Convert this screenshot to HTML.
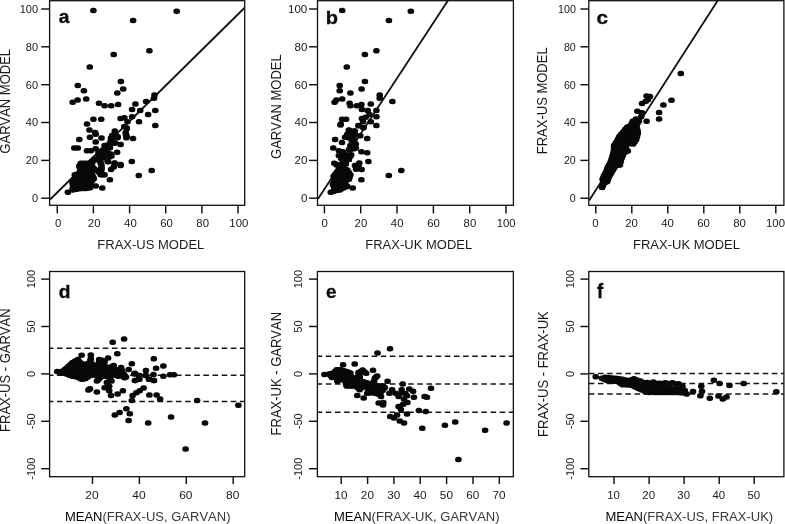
<!DOCTYPE html>
<html lang="en"><head><meta charset="utf-8"><title>Bland-Altman comparison of fracture risk models</title>
<style>html,body{margin:0;padding:0;background:#fff}svg{display:block}text{font-family:"Liberation Sans",Arial,Helvetica,sans-serif;fill:#1a1a1a;font-kerning:none}.tk{font-size:10.75px}.lb{font-size:13px}.pl{font-size:18.5px;font-weight:bold;fill:#0c0c0c;stroke:#0c0c0c;stroke-width:0.35px}.ax{stroke:#111;stroke-width:1.45;fill:none}.bx{stroke:#111;stroke-width:1.3;fill:none}.ds{stroke:#161616;stroke-width:1.5;stroke-dasharray:5.6 3.55;fill:none}.ln{stroke:#111;stroke-width:1.8;fill:none}.p rect{fill:#080808;width:6.6px;height:5.5px;rx:2.9px;ry:2.5px}</style></head><body>
<svg width="785" height="524" viewBox="0 0 785 524">
<rect width="785" height="524" fill="#fff"/>
<g id="panel-a">
<clipPath id="clipa"><rect x="49.6" y="0.7" width="195.1" height="204.60000000000002"/></clipPath>
<line class="ln" x1="50.1" y1="199.5" x2="244.9" y2="7.5" clip-path="url(#clipa)"/>
<g class="p" clip-path="url(#clipa)">
<rect x="90.1" y="7.65"/>
<rect x="173.4" y="8.45"/>
<rect x="129.8" y="17.65"/>
<rect x="146.1" y="47.95"/>
<rect x="110.4" y="51.75"/>
<rect x="86.5" y="64.25"/>
<rect x="117.6" y="78.75"/>
<rect x="74.5" y="82.65"/>
<rect x="119.9" y="86.15"/>
<rect x="80.6" y="87.95"/>
<rect x="114.0" y="90.25"/>
<rect x="151.2" y="92.25"/>
<rect x="150.7" y="95.55"/>
<rect x="82.9" y="96.35"/>
<rect x="74.3" y="97.35"/>
<rect x="69.4" y="99.45"/>
<rect x="142.8" y="98.65"/>
<rect x="95.7" y="100.45"/>
<rect x="132.1" y="101.15"/>
<rect x="101.3" y="102.95"/>
<rect x="107.9" y="102.95"/>
<rect x="114.8" y="101.75"/>
<rect x="128.8" y="106.85"/>
<rect x="136.9" y="107.85"/>
<rect x="152.0" y="107.85"/>
<rect x="144.8" y="111.85"/>
<rect x="128.8" y="113.95"/>
<rect x="117.3" y="115.75"/>
<rect x="121.1" y="114.95"/>
<rect x="90.1" y="116.45"/>
<rect x="97.9" y="116.45"/>
<rect x="124.2" y="119.05"/>
<rect x="135.7" y="119.05"/>
<rect x="83.7" y="121.35"/>
<rect x="152.0" y="122.85"/>
<rect x="121.1" y="123.85"/>
<rect x="86.2" y="127.15"/>
<rect x="111.5" y="128.25"/>
<rect x="91.8" y="129.75"/>
<rect x="122.4" y="129.75"/>
<rect x="92.4" y="131.45"/>
<rect x="86.7" y="134.45"/>
<rect x="76.0" y="136.75"/>
<rect x="98.2" y="135.25"/>
<rect x="92.4" y="139.35"/>
<rect x="123.4" y="125.35"/>
<rect x="123.4" y="133.75"/>
<rect x="129.7" y="135.75"/>
<rect x="112.7" y="134.45"/>
<rect x="107.7" y="135.25"/>
<rect x="117.3" y="141.85"/>
<rect x="110.4" y="140.55"/>
<rect x="105.9" y="142.15"/>
<rect x="101.3" y="142.85"/>
<rect x="71.0" y="145.15"/>
<rect x="74.5" y="145.15"/>
<rect x="83.7" y="147.95"/>
<rect x="87.5" y="147.95"/>
<rect x="92.4" y="145.95"/>
<rect x="113.8" y="149.45"/>
<rect x="98.2" y="148.25"/>
<rect x="102.8" y="149.75"/>
<rect x="107.4" y="151.35"/>
<rect x="95.2" y="152.85"/>
<rect x="105.9" y="154.35"/>
<rect x="99.7" y="155.15"/>
<rect x="92.9" y="156.65"/>
<rect x="128.5" y="158.65"/>
<rect x="104.8" y="158.95"/>
<rect x="111.5" y="160.45"/>
<rect x="117.3" y="162.75"/>
<rect x="98.2" y="162.75"/>
<rect x="110.4" y="164.25"/>
<rect x="107.7" y="166.85"/>
<rect x="148.4" y="167.65"/>
<rect x="135.5" y="172.75"/>
<rect x="106.6" y="176.95"/>
<rect x="99.0" y="185.25"/>
<rect x="92.4" y="183.15"/>
<rect x="64.6" y="189.55"/>
<rect x="77.6" y="160.45"/>
<rect x="82.9" y="160.45"/>
<rect x="87.5" y="161.25"/>
<rect x="76.0" y="163.55"/>
<rect x="80.6" y="164.25"/>
<rect x="86.0" y="165.05"/>
<rect x="90.6" y="165.85"/>
<rect x="77.6" y="167.35"/>
<rect x="82.9" y="168.15"/>
<rect x="88.3" y="168.85"/>
<rect x="98.2" y="166.55"/>
<rect x="95.2" y="168.85"/>
<rect x="71.5" y="171.95"/>
<rect x="75.3" y="171.15"/>
<rect x="79.9" y="171.95"/>
<rect x="84.5" y="171.95"/>
<rect x="89.0" y="172.75"/>
<rect x="97.5" y="171.95"/>
<rect x="101.3" y="171.95"/>
<rect x="72.2" y="175.05"/>
<rect x="76.8" y="175.05"/>
<rect x="81.4" y="175.75"/>
<rect x="86.0" y="175.75"/>
<rect x="90.6" y="175.75"/>
<rect x="69.2" y="179.55"/>
<rect x="73.8" y="178.85"/>
<rect x="78.3" y="178.85"/>
<rect x="82.9" y="179.55"/>
<rect x="87.5" y="179.55"/>
<rect x="69.9" y="183.45"/>
<rect x="74.5" y="182.65"/>
<rect x="79.1" y="183.45"/>
<rect x="83.7" y="183.45"/>
<rect x="69.2" y="187.25"/>
<rect x="73.0" y="186.45"/>
<rect x="77.6" y="185.75"/>
<rect x="82.2" y="185.75"/>
<rect x="86.7" y="184.95"/>
<rect x="95.2" y="149.75"/>
<rect x="97.5" y="152.05"/>
<rect x="102.0" y="146.75"/>
<rect x="105.1" y="145.15"/>
<rect x="108.9" y="138.35"/>
<rect x="111.2" y="131.45"/>
<rect x="114.3" y="133.75"/>
<rect x="108.9" y="132.95"/>
<rect x="90.6" y="157.45"/>
<rect x="88.3" y="158.95"/>
<rect x="96.7" y="158.15"/>
<rect x="123.5" y="125.85"/>
<rect x="122.7" y="131.95"/>
<rect x="123.0" y="135.05"/>
<rect x="108.9" y="132.75"/>
<rect x="114.3" y="135.05"/>
<rect x="107.4" y="138.05"/>
<rect x="112.0" y="140.35"/>
<rect x="102.8" y="142.65"/>
<rect x="106.6" y="144.95"/>
<rect x="99.8" y="147.25"/>
<rect x="104.3" y="150.25"/>
<rect x="108.2" y="153.35"/>
<rect x="99.8" y="154.15"/>
<rect x="111.2" y="160.25"/>
<rect x="117.3" y="161.75"/>
<rect x="104.3" y="158.75"/>
<rect x="69.5" y="181.45"/>
<rect x="69.5" y="185.35"/>
<rect x="70.7" y="177.35"/>
<rect x="71.1" y="186.85"/>
<rect x="71.5" y="179.15"/>
<rect x="71.5" y="184.95"/>
<rect x="71.9" y="173.45"/>
<rect x="72.2" y="183.05"/>
<rect x="73.0" y="176.95"/>
<rect x="73.4" y="171.55"/>
<rect x="73.7" y="173.15"/>
<rect x="73.7" y="184.55"/>
<rect x="74.1" y="180.75"/>
<rect x="74.5" y="175.05"/>
<rect x="75.3" y="176.95"/>
<rect x="75.3" y="186.05"/>
<rect x="76.0" y="173.15"/>
<rect x="76.0" y="178.85"/>
<rect x="76.0" y="184.15"/>
<rect x="76.4" y="180.75"/>
<rect x="76.5" y="169.25"/>
<rect x="76.8" y="162.05"/>
<rect x="76.8" y="165.45"/>
<rect x="76.8" y="183.05"/>
<rect x="77.5" y="176.95"/>
<rect x="77.6" y="171.55"/>
<rect x="78.3" y="163.95"/>
<rect x="78.4" y="173.45"/>
<rect x="78.4" y="184.55"/>
<rect x="78.7" y="181.15"/>
<rect x="78.8" y="169.65"/>
<rect x="79.1" y="162.35"/>
<rect x="79.1" y="165.85"/>
<rect x="79.1" y="175.45"/>
<rect x="79.9" y="177.35"/>
<rect x="79.9" y="185.75"/>
<rect x="80.3" y="160.45"/>
<rect x="80.3" y="167.75"/>
<rect x="80.6" y="179.15"/>
<rect x="80.7" y="173.85"/>
<rect x="80.7" y="184.55"/>
<rect x="81.0" y="181.45"/>
<rect x="81.4" y="170.05"/>
<rect x="81.4" y="183.45"/>
<rect x="81.8" y="162.35"/>
<rect x="81.8" y="166.15"/>
<rect x="82.2" y="171.95"/>
<rect x="82.2" y="177.65"/>
<rect x="82.9" y="173.85"/>
<rect x="82.9" y="184.55"/>
<rect x="83.3" y="164.65"/>
<rect x="83.3" y="181.45"/>
<rect x="83.7" y="170.05"/>
<rect x="83.7" y="175.75"/>
<rect x="84.5" y="162.75"/>
<rect x="84.5" y="166.65"/>
<rect x="84.5" y="177.65"/>
<rect x="84.5" y="185.35"/>
<rect x="85.2" y="160.85"/>
<rect x="85.2" y="173.85"/>
<rect x="85.2" y="179.55"/>
<rect x="85.2" y="184.15"/>
<rect x="85.6" y="168.45"/>
<rect x="85.6" y="181.45"/>
<rect x="86.4" y="170.35"/>
<rect x="86.7" y="163.15"/>
<rect x="86.7" y="172.35"/>
<rect x="86.7" y="177.65"/>
<rect x="87.1" y="166.95"/>
<rect x="87.1" y="182.25"/>
<rect x="87.5" y="174.25"/>
<rect x="87.9" y="160.05"/>
<rect x="88.3" y="165.45"/>
<rect x="88.3" y="175.75"/>
<rect x="88.6" y="170.85"/>
<rect x="89.0" y="159.35"/>
<rect x="89.0" y="163.55"/>
<rect x="89.0" y="177.65"/>
<rect x="89.5" y="158.15"/>
<rect x="89.5" y="167.35"/>
<rect x="89.8" y="174.25"/>
<rect x="92.9" y="167.35"/>
<rect x="96.4" y="170.35"/>
<rect x="96.7" y="167.65"/>
<rect x="97.5" y="160.45"/>
<rect x="97.9" y="169.25"/>
<rect x="98.2" y="164.65"/>
<rect x="99.4" y="171.95"/>
</g>
<rect class="bx" x="49.6" y="0.7" width="195.1" height="204.60000000000002"/>
<line class="ax" x1="57.3" y1="205.3" x2="57.3" y2="213.4"/>
<text class="tk" transform="translate(58.1,226.6) scale(1.06,1)" text-anchor="middle">0</text>
<line class="ax" x1="93.4" y1="205.3" x2="93.4" y2="213.4"/>
<text class="tk" transform="translate(94.2,226.6) scale(1.06,1)" text-anchor="middle">20</text>
<line class="ax" x1="129.6" y1="205.3" x2="129.6" y2="213.4"/>
<text class="tk" transform="translate(130.4,226.6) scale(1.06,1)" text-anchor="middle">40</text>
<line class="ax" x1="165.7" y1="205.3" x2="165.7" y2="213.4"/>
<text class="tk" transform="translate(166.5,226.6) scale(1.06,1)" text-anchor="middle">60</text>
<line class="ax" x1="201.9" y1="205.3" x2="201.9" y2="213.4"/>
<text class="tk" transform="translate(202.7,226.6) scale(1.06,1)" text-anchor="middle">80</text>
<line class="ax" x1="238.0" y1="205.3" x2="238.0" y2="213.4"/>
<text class="tk" transform="translate(238.8,226.6) scale(1.06,1)" text-anchor="middle">100</text>
<line class="ax" x1="41.2" y1="198.2" x2="49.6" y2="198.2"/>
<text class="tk" style="font-size:10.1px" transform="translate(38.1,202.1) scale(1.09,1)" text-anchor="end">0</text>
<line class="ax" x1="41.2" y1="160.4" x2="49.6" y2="160.4"/>
<text class="tk" style="font-size:10.1px" transform="translate(38.1,164.3) scale(1.09,1)" text-anchor="end">20</text>
<line class="ax" x1="41.2" y1="122.5" x2="49.6" y2="122.5"/>
<text class="tk" style="font-size:10.1px" transform="translate(38.1,126.4) scale(1.09,1)" text-anchor="end">40</text>
<line class="ax" x1="41.2" y1="84.7" x2="49.6" y2="84.7"/>
<text class="tk" style="font-size:10.1px" transform="translate(38.1,88.6) scale(1.09,1)" text-anchor="end">60</text>
<line class="ax" x1="41.2" y1="46.8" x2="49.6" y2="46.8"/>
<text class="tk" style="font-size:10.1px" transform="translate(38.1,50.7) scale(1.09,1)" text-anchor="end">80</text>
<line class="ax" x1="41.2" y1="9.0" x2="49.6" y2="9.0"/>
<text class="tk" style="font-size:10.1px" transform="translate(38.1,12.9) scale(1.09,1)" text-anchor="end">100</text>
<text class="lb" style="font-size:13.7px" transform="translate(150.8,248.6) scale(0.95,1)" text-anchor="middle">FRAX-US MODEL</text>
<text class="lb" transform="translate(10.0,101.3) scale(1.12,1) rotate(-90)" text-anchor="middle">GARVAN MODEL</text>
<text class="pl" style="font-size:19.2px" transform="translate(58.7,23.2) scale(1.0,1)">a</text>
</g>
<g id="panel-b">
<clipPath id="clipb"><rect x="317.5" y="0.7" width="195.89999999999998" height="204.60000000000002"/></clipPath>
<line class="ln" x1="318.1" y1="198.7" x2="448.3" y2="0" clip-path="url(#clipb)"/>
<g class="p" clip-path="url(#clipb)">
<rect x="338.9" y="7.65"/>
<rect x="407.5" y="8.45"/>
<rect x="385.6" y="17.65"/>
<rect x="373.1" y="47.95"/>
<rect x="361.6" y="51.75"/>
<rect x="343.5" y="64.25"/>
<rect x="361.6" y="78.75"/>
<rect x="336.4" y="82.65"/>
<rect x="358.3" y="86.15"/>
<rect x="336.4" y="87.95"/>
<rect x="347.1" y="90.25"/>
<rect x="376.4" y="92.25"/>
<rect x="376.4" y="95.55"/>
<rect x="338.9" y="96.35"/>
<rect x="333.1" y="97.35"/>
<rect x="331.3" y="99.45"/>
<rect x="389.1" y="98.65"/>
<rect x="346.3" y="100.45"/>
<rect x="367.5" y="101.15"/>
<rect x="347.1" y="102.95"/>
<rect x="353.5" y="102.95"/>
<rect x="358.1" y="101.75"/>
<rect x="358.6" y="106.85"/>
<rect x="364.4" y="107.85"/>
<rect x="373.1" y="107.85"/>
<rect x="366.2" y="111.85"/>
<rect x="373.1" y="113.95"/>
<rect x="358.6" y="115.75"/>
<rect x="362.4" y="114.45"/>
<rect x="338.9" y="116.45"/>
<rect x="342.8" y="116.45"/>
<rect x="359.8" y="119.05"/>
<rect x="367.5" y="119.05"/>
<rect x="337.4" y="121.35"/>
<rect x="373.1" y="122.85"/>
<rect x="355.2" y="122.85"/>
<rect x="360.3" y="124.65"/>
<rect x="345.8" y="127.15"/>
<rect x="351.4" y="128.25"/>
<rect x="337.2" y="122.25"/>
<rect x="355.2" y="123.05"/>
<rect x="360.1" y="125.05"/>
<rect x="345.6" y="127.65"/>
<rect x="350.9" y="128.35"/>
<rect x="347.9" y="131.45"/>
<rect x="357.0" y="132.95"/>
<rect x="341.8" y="134.45"/>
<rect x="345.6" y="135.25"/>
<rect x="363.9" y="135.75"/>
<rect x="331.8" y="136.75"/>
<rect x="350.9" y="137.55"/>
<rect x="338.7" y="139.85"/>
<rect x="352.5" y="141.35"/>
<rect x="347.1" y="142.85"/>
<rect x="330.0" y="145.15"/>
<rect x="350.9" y="145.95"/>
<rect x="345.6" y="146.75"/>
<rect x="335.6" y="147.95"/>
<rect x="339.5" y="149.05"/>
<rect x="358.1" y="149.05"/>
<rect x="363.9" y="150.05"/>
<rect x="347.9" y="152.05"/>
<rect x="343.3" y="153.55"/>
<rect x="337.9" y="155.85"/>
<rect x="345.6" y="156.65"/>
<rect x="341.8" y="158.95"/>
<rect x="365.1" y="158.65"/>
<rect x="356.0" y="160.15"/>
<rect x="331.0" y="160.45"/>
<rect x="333.3" y="162.35"/>
<rect x="351.7" y="162.75"/>
<rect x="337.9" y="162.35"/>
<rect x="352.8" y="166.55"/>
<rect x="358.3" y="166.85"/>
<rect x="398.0" y="167.65"/>
<rect x="385.5" y="172.75"/>
<rect x="358.1" y="176.95"/>
<rect x="349.4" y="185.25"/>
<rect x="327.5" y="189.55"/>
<rect x="335.6" y="166.55"/>
<rect x="340.2" y="165.85"/>
<rect x="344.0" y="167.35"/>
<rect x="333.3" y="169.65"/>
<rect x="337.9" y="169.65"/>
<rect x="342.5" y="170.45"/>
<rect x="347.1" y="171.95"/>
<rect x="330.3" y="173.45"/>
<rect x="334.9" y="173.45"/>
<rect x="339.5" y="174.25"/>
<rect x="344.0" y="174.25"/>
<rect x="345.6" y="176.55"/>
<rect x="331.8" y="177.25"/>
<rect x="336.4" y="177.25"/>
<rect x="341.0" y="178.05"/>
<rect x="329.5" y="181.15"/>
<rect x="334.1" y="181.15"/>
<rect x="338.7" y="181.15"/>
<rect x="342.5" y="182.65"/>
<rect x="344.0" y="183.45"/>
<rect x="331.0" y="184.95"/>
<rect x="335.6" y="184.95"/>
<rect x="340.2" y="184.95"/>
<rect x="331.8" y="187.95"/>
<rect x="336.4" y="187.25"/>
<rect x="355.3" y="163.25"/>
<rect x="333.8" y="161.85"/>
<rect x="352.5" y="132.15"/>
<rect x="344.0" y="131.45"/>
<rect x="348.6" y="135.25"/>
<rect x="348.6" y="139.85"/>
<rect x="350.2" y="143.65"/>
<rect x="347.1" y="146.75"/>
<rect x="352.5" y="145.15"/>
<rect x="341.0" y="151.35"/>
<rect x="344.0" y="156.65"/>
<rect x="339.5" y="158.95"/>
<rect x="335.6" y="152.85"/>
<rect x="347.1" y="153.55"/>
<rect x="340.2" y="155.15"/>
<rect x="342.5" y="161.25"/>
<rect x="329.7" y="188.75"/>
<rect x="330.3" y="183.05"/>
<rect x="330.7" y="179.15"/>
<rect x="331.1" y="175.35"/>
<rect x="331.4" y="186.45"/>
<rect x="331.8" y="171.55"/>
<rect x="331.8" y="181.15"/>
<rect x="332.6" y="173.45"/>
<rect x="332.6" y="183.05"/>
<rect x="332.9" y="179.15"/>
<rect x="333.3" y="175.35"/>
<rect x="333.3" y="184.95"/>
<rect x="333.7" y="186.45"/>
<rect x="334.1" y="171.55"/>
<rect x="334.1" y="177.25"/>
<rect x="334.1" y="187.55"/>
<rect x="334.5" y="168.15"/>
<rect x="334.8" y="183.05"/>
<rect x="335.2" y="179.15"/>
<rect x="335.6" y="169.65"/>
<rect x="335.6" y="175.35"/>
<rect x="336.0" y="186.05"/>
<rect x="336.4" y="171.55"/>
<rect x="336.4" y="181.15"/>
<rect x="336.7" y="168.15"/>
<rect x="337.1" y="183.05"/>
<rect x="337.2" y="173.85"/>
<rect x="337.6" y="179.15"/>
<rect x="337.9" y="166.15"/>
<rect x="337.9" y="175.75"/>
<rect x="337.9" y="184.95"/>
<rect x="338.3" y="186.05"/>
<rect x="338.7" y="171.95"/>
<rect x="338.7" y="177.65"/>
<rect x="339.1" y="167.75"/>
<rect x="339.5" y="183.05"/>
<rect x="339.8" y="179.65"/>
<rect x="340.2" y="170.05"/>
<rect x="340.3" y="176.15"/>
<rect x="340.6" y="181.95"/>
<rect x="341.0" y="172.35"/>
<rect x="341.3" y="168.15"/>
<rect x="341.3" y="183.85"/>
<rect x="341.8" y="174.25"/>
<rect x="341.8" y="180.35"/>
<rect x="342.1" y="166.55"/>
<rect x="342.1" y="184.15"/>
<rect x="342.5" y="176.15"/>
<rect x="343.3" y="168.85"/>
<rect x="343.3" y="172.35"/>
<rect x="343.3" y="177.35"/>
<rect x="344.8" y="171.15"/>
<rect x="344.8" y="175.45"/>
<rect x="345.6" y="169.65"/>
<rect x="345.6" y="173.05"/>
<rect x="346.3" y="174.25"/>
</g>
<rect class="bx" x="317.5" y="0.7" width="195.89999999999998" height="204.60000000000002"/>
<line class="ax" x1="324.4" y1="205.3" x2="324.4" y2="213.4"/>
<text class="tk" transform="translate(324.6,226.6) scale(1.06,1)" text-anchor="middle">0</text>
<line class="ax" x1="360.7" y1="205.3" x2="360.7" y2="213.4"/>
<text class="tk" transform="translate(360.9,226.6) scale(1.06,1)" text-anchor="middle">20</text>
<line class="ax" x1="397.0" y1="205.3" x2="397.0" y2="213.4"/>
<text class="tk" transform="translate(397.2,226.6) scale(1.06,1)" text-anchor="middle">40</text>
<line class="ax" x1="433.4" y1="205.3" x2="433.4" y2="213.4"/>
<text class="tk" transform="translate(433.6,226.6) scale(1.06,1)" text-anchor="middle">60</text>
<line class="ax" x1="469.7" y1="205.3" x2="469.7" y2="213.4"/>
<text class="tk" transform="translate(469.9,226.6) scale(1.06,1)" text-anchor="middle">80</text>
<line class="ax" x1="506.0" y1="205.3" x2="506.0" y2="213.4"/>
<text class="tk" transform="translate(506.2,226.6) scale(1.06,1)" text-anchor="middle">100</text>
<line class="ax" x1="309.1" y1="198.2" x2="317.5" y2="198.2"/>
<text class="tk" style="font-size:10.1px" transform="translate(307.3,202.1) scale(1.145,1)" text-anchor="end">0</text>
<line class="ax" x1="309.1" y1="160.4" x2="317.5" y2="160.4"/>
<text class="tk" style="font-size:10.1px" transform="translate(307.3,164.3) scale(1.145,1)" text-anchor="end">20</text>
<line class="ax" x1="309.1" y1="122.5" x2="317.5" y2="122.5"/>
<text class="tk" style="font-size:10.1px" transform="translate(307.3,126.4) scale(1.145,1)" text-anchor="end">40</text>
<line class="ax" x1="309.1" y1="84.7" x2="317.5" y2="84.7"/>
<text class="tk" style="font-size:10.1px" transform="translate(307.3,88.6) scale(1.145,1)" text-anchor="end">60</text>
<line class="ax" x1="309.1" y1="46.8" x2="317.5" y2="46.8"/>
<text class="tk" style="font-size:10.1px" transform="translate(307.3,50.7) scale(1.145,1)" text-anchor="end">80</text>
<line class="ax" x1="309.1" y1="9.0" x2="317.5" y2="9.0"/>
<text class="tk" style="font-size:10.1px" transform="translate(307.3,12.9) scale(1.145,1)" text-anchor="end">100</text>
<text class="lb" style="font-size:13.7px" transform="translate(418.7,248.6) scale(0.95,1)" text-anchor="middle">FRAX-UK MODEL</text>
<text class="lb" transform="translate(280.6,106.6) scale(1.12,1) rotate(-90)" text-anchor="middle">GARVAN MODEL</text>
<text class="pl" style="font-size:19.2px" transform="translate(325.7,23.7) scale(1.04,1)">b</text>
</g>
<g id="panel-c">
<clipPath id="clipc"><rect x="588.8" y="0.7" width="195.10000000000002" height="204.60000000000002"/></clipPath>
<line class="ln" x1="589.1" y1="200.5" x2="718.1" y2="0" clip-path="url(#clipc)"/>
<g class="p" clip-path="url(#clipc)">
<rect x="677.5" y="70.75"/>
<rect x="668.2" y="97.45"/>
<rect x="660.1" y="102.35"/>
<rect x="655.8" y="109.65"/>
<rect x="655.8" y="116.15"/>
<rect x="643.3" y="118.45"/>
<rect x="643.3" y="93.15"/>
<rect x="646.6" y="93.65"/>
<rect x="644.8" y="96.65"/>
<rect x="638.7" y="100.85"/>
<rect x="642.5" y="98.55"/>
<rect x="634.1" y="108.45"/>
<rect x="638.7" y="110.05"/>
<rect x="637.9" y="113.85"/>
<rect x="632.6" y="116.15"/>
<rect x="629.5" y="118.45"/>
<rect x="635.6" y="118.45"/>
<rect x="628.0" y="122.25"/>
<rect x="632.6" y="122.95"/>
<rect x="624.9" y="125.25"/>
<rect x="630.3" y="126.85"/>
<rect x="634.1" y="129.15"/>
<rect x="621.9" y="129.15"/>
<rect x="627.2" y="130.65"/>
<rect x="632.6" y="132.95"/>
<rect x="618.0" y="132.95"/>
<rect x="623.4" y="133.75"/>
<rect x="628.7" y="135.25"/>
<rect x="598.8" y="184.65"/>
<rect x="600.8" y="180.35"/>
<rect x="599.3" y="176.55"/>
<rect x="603.9" y="178.85"/>
<rect x="600.8" y="172.75"/>
<rect x="605.4" y="174.25"/>
<rect x="603.1" y="168.85"/>
<rect x="607.7" y="170.45"/>
<rect x="604.6" y="164.25"/>
<rect x="610.0" y="166.55"/>
<rect x="606.9" y="160.45"/>
<rect x="612.3" y="162.75"/>
<rect x="616.6" y="162.35"/>
<rect x="608.5" y="155.85"/>
<rect x="613.8" y="158.15"/>
<rect x="618.4" y="155.15"/>
<rect x="610.0" y="151.35"/>
<rect x="615.3" y="152.85"/>
<rect x="610.8" y="146.75"/>
<rect x="616.1" y="148.25"/>
<rect x="620.7" y="149.75"/>
<rect x="624.5" y="148.25"/>
<rect x="610.8" y="142.85"/>
<rect x="616.1" y="143.65"/>
<rect x="621.5" y="144.45"/>
<rect x="613.8" y="138.35"/>
<rect x="619.2" y="139.85"/>
<rect x="623.7" y="140.55"/>
<rect x="629.9" y="141.35"/>
<rect x="616.1" y="133.75"/>
<rect x="621.5" y="135.25"/>
<rect x="626.8" y="136.75"/>
<rect x="632.9" y="136.75"/>
<rect x="619.9" y="129.15"/>
<rect x="625.3" y="130.65"/>
<rect x="630.6" y="132.15"/>
<rect x="634.5" y="130.65"/>
<rect x="623.7" y="124.55"/>
<rect x="629.1" y="126.05"/>
<rect x="633.7" y="126.05"/>
<rect x="599.8" y="182.45"/>
<rect x="600.1" y="174.65"/>
<rect x="600.1" y="178.45"/>
<rect x="601.6" y="177.65"/>
<rect x="601.9" y="170.85"/>
<rect x="602.4" y="175.45"/>
<rect x="602.4" y="175.85"/>
<rect x="602.4" y="179.55"/>
<rect x="603.1" y="173.45"/>
<rect x="603.8" y="166.55"/>
<rect x="604.2" y="171.55"/>
<rect x="604.7" y="176.55"/>
<rect x="605.4" y="169.65"/>
<rect x="605.7" y="162.35"/>
<rect x="606.2" y="167.35"/>
<rect x="606.5" y="167.65"/>
<rect x="606.6" y="172.35"/>
<rect x="607.3" y="165.45"/>
<rect x="607.7" y="158.15"/>
<rect x="608.5" y="163.45"/>
<rect x="608.8" y="168.45"/>
<rect x="609.2" y="153.55"/>
<rect x="609.6" y="161.55"/>
<rect x="610.4" y="149.05"/>
<rect x="610.4" y="159.35"/>
<rect x="610.8" y="144.85"/>
<rect x="611.2" y="157.05"/>
<rect x="611.2" y="164.65"/>
<rect x="611.9" y="154.35"/>
<rect x="612.3" y="140.55"/>
<rect x="612.7" y="152.05"/>
<rect x="613.0" y="149.85"/>
<rect x="613.1" y="160.45"/>
<rect x="613.5" y="143.25"/>
<rect x="613.5" y="145.15"/>
<rect x="613.5" y="147.45"/>
<rect x="614.5" y="162.55"/>
<rect x="614.6" y="155.45"/>
<rect x="614.9" y="136.05"/>
<rect x="614.9" y="141.05"/>
<rect x="615.2" y="160.25"/>
<rect x="615.7" y="150.55"/>
<rect x="615.9" y="135.65"/>
<rect x="616.1" y="145.95"/>
<rect x="616.1" y="156.65"/>
<rect x="616.5" y="139.05"/>
<rect x="616.9" y="154.05"/>
<rect x="617.0" y="133.35"/>
<rect x="617.2" y="151.65"/>
<rect x="617.5" y="158.75"/>
<rect x="617.7" y="136.85"/>
<rect x="617.7" y="141.75"/>
<rect x="618.0" y="131.45"/>
<rect x="618.0" y="151.35"/>
<rect x="618.4" y="149.05"/>
<rect x="618.6" y="136.35"/>
<rect x="618.8" y="134.45"/>
<rect x="618.8" y="144.05"/>
<rect x="618.8" y="146.35"/>
<rect x="618.9" y="131.05"/>
<rect x="619.0" y="131.45"/>
<rect x="619.6" y="152.45"/>
<rect x="619.7" y="133.75"/>
<rect x="619.7" y="134.05"/>
<rect x="619.9" y="131.05"/>
<rect x="620.3" y="137.55"/>
<rect x="620.3" y="142.15"/>
<rect x="620.7" y="132.15"/>
<rect x="620.7" y="133.35"/>
<rect x="621.1" y="147.05"/>
<rect x="621.3" y="136.85"/>
<rect x="621.5" y="140.15"/>
<rect x="621.7" y="131.45"/>
<rect x="621.7" y="132.15"/>
<rect x="621.8" y="126.85"/>
<rect x="622.4" y="127.15"/>
<rect x="622.5" y="134.45"/>
<rect x="622.6" y="129.95"/>
<rect x="622.6" y="137.95"/>
<rect x="622.6" y="142.45"/>
<rect x="622.6" y="149.05"/>
<rect x="622.7" y="131.45"/>
<rect x="622.8" y="126.85"/>
<rect x="623.0" y="146.35"/>
<rect x="623.4" y="127.15"/>
<rect x="623.4" y="132.95"/>
<rect x="623.6" y="129.95"/>
<rect x="623.6" y="137.15"/>
<rect x="624.2" y="136.05"/>
<rect x="624.3" y="132.95"/>
<rect x="624.4" y="132.15"/>
<rect x="624.5" y="127.55"/>
<rect x="624.6" y="129.95"/>
<rect x="625.1" y="127.95"/>
<rect x="625.1" y="135.25"/>
<rect x="625.2" y="138.65"/>
<rect x="625.3" y="132.15"/>
<rect x="625.5" y="127.55"/>
<rect x="625.8" y="123.45"/>
<rect x="626.1" y="127.95"/>
<rect x="626.1" y="133.65"/>
<rect x="626.1" y="134.45"/>
<rect x="626.2" y="137.95"/>
<rect x="626.4" y="125.35"/>
<rect x="626.5" y="123.75"/>
<rect x="626.8" y="140.95"/>
<rect x="627.0" y="125.65"/>
<rect x="627.0" y="132.95"/>
<rect x="627.0" y="133.65"/>
<rect x="627.2" y="128.35"/>
<rect x="627.6" y="126.05"/>
<rect x="627.7" y="136.05"/>
<rect x="627.8" y="128.75"/>
<rect x="627.9" y="131.45"/>
<rect x="627.9" y="132.95"/>
<rect x="628.2" y="128.35"/>
<rect x="628.4" y="139.05"/>
<rect x="628.5" y="124.15"/>
<rect x="628.7" y="120.35"/>
<rect x="628.7" y="128.75"/>
<rect x="628.7" y="134.45"/>
<rect x="628.9" y="131.45"/>
<rect x="629.2" y="124.55"/>
<rect x="629.3" y="138.35"/>
<rect x="629.7" y="133.65"/>
<rect x="629.7" y="134.85"/>
<rect x="629.8" y="129.15"/>
<rect x="629.9" y="131.85"/>
<rect x="629.9" y="136.75"/>
<rect x="630.3" y="122.55"/>
<rect x="630.5" y="129.45"/>
<rect x="630.7" y="129.95"/>
<rect x="630.7" y="134.05"/>
<rect x="630.8" y="124.15"/>
<rect x="630.8" y="124.45"/>
<rect x="630.8" y="130.65"/>
<rect x="630.8" y="136.05"/>
<rect x="631.0" y="120.75"/>
<rect x="631.4" y="126.05"/>
<rect x="631.4" y="139.05"/>
<rect x="631.5" y="124.95"/>
<rect x="631.5" y="129.85"/>
<rect x="631.6" y="127.65"/>
<rect x="631.6" y="132.55"/>
<rect x="631.6" y="132.95"/>
<rect x="631.7" y="134.45"/>
<rect x="631.8" y="128.35"/>
<rect x="632.0" y="126.45"/>
<rect x="632.2" y="128.05"/>
<rect x="632.2" y="129.15"/>
<rect x="632.3" y="130.65"/>
<rect x="632.4" y="128.75"/>
<rect x="632.5" y="118.45"/>
<rect x="632.5" y="131.45"/>
<rect x="632.7" y="134.85"/>
<rect x="633.2" y="124.45"/>
<rect x="633.2" y="129.45"/>
<rect x="633.3" y="126.05"/>
<rect x="633.3" y="131.05"/>
<rect x="633.5" y="131.85"/>
<rect x="633.7" y="133.65"/>
<rect x="633.9" y="127.65"/>
<rect x="634.1" y="120.75"/>
<rect x="634.1" y="128.35"/>
</g>
<rect class="bx" x="588.8" y="0.7" width="195.10000000000002" height="204.60000000000002"/>
<line class="ax" x1="595.8" y1="205.3" x2="595.8" y2="213.4"/>
<text class="tk" transform="translate(595.5,226.6) scale(1.06,1)" text-anchor="middle">0</text>
<line class="ax" x1="631.8" y1="205.3" x2="631.8" y2="213.4"/>
<text class="tk" transform="translate(631.5,226.6) scale(1.06,1)" text-anchor="middle">20</text>
<line class="ax" x1="667.8" y1="205.3" x2="667.8" y2="213.4"/>
<text class="tk" transform="translate(667.5,226.6) scale(1.06,1)" text-anchor="middle">40</text>
<line class="ax" x1="703.8" y1="205.3" x2="703.8" y2="213.4"/>
<text class="tk" transform="translate(703.5,226.6) scale(1.06,1)" text-anchor="middle">60</text>
<line class="ax" x1="739.8" y1="205.3" x2="739.8" y2="213.4"/>
<text class="tk" transform="translate(739.5,226.6) scale(1.06,1)" text-anchor="middle">80</text>
<line class="ax" x1="775.8" y1="205.3" x2="775.8" y2="213.4"/>
<text class="tk" transform="translate(775.5,226.6) scale(1.06,1)" text-anchor="middle">100</text>
<line class="ax" x1="580.4" y1="198.2" x2="588.8" y2="198.2"/>
<text class="tk" style="font-size:10.1px" transform="translate(575.8,202.1) scale(1.055,1)" text-anchor="end">0</text>
<line class="ax" x1="580.4" y1="160.4" x2="588.8" y2="160.4"/>
<text class="tk" style="font-size:10.1px" transform="translate(575.8,164.3) scale(1.055,1)" text-anchor="end">20</text>
<line class="ax" x1="580.4" y1="122.5" x2="588.8" y2="122.5"/>
<text class="tk" style="font-size:10.1px" transform="translate(575.8,126.4) scale(1.055,1)" text-anchor="end">40</text>
<line class="ax" x1="580.4" y1="84.7" x2="588.8" y2="84.7"/>
<text class="tk" style="font-size:10.1px" transform="translate(575.8,88.6) scale(1.055,1)" text-anchor="end">60</text>
<line class="ax" x1="580.4" y1="46.8" x2="588.8" y2="46.8"/>
<text class="tk" style="font-size:10.1px" transform="translate(575.8,50.7) scale(1.055,1)" text-anchor="end">80</text>
<line class="ax" x1="580.4" y1="9.0" x2="588.8" y2="9.0"/>
<text class="tk" style="font-size:10.1px" transform="translate(575.8,12.9) scale(1.055,1)" text-anchor="end">100</text>
<text class="lb" style="font-size:13.7px" transform="translate(686.5,248.6) scale(0.95,1)" text-anchor="middle">FRAX-UK MODEL</text>
<text class="lb" transform="translate(546.9,100.8) scale(1.12,1) rotate(-90)" text-anchor="middle">FRAX-US MODEL</text>
<text class="pl" style="font-size:18.5px" transform="translate(596.4,23.7) scale(1.12,1)">c</text>
</g>
<g id="panel-d">
<clipPath id="clipd"><rect x="49.6" y="271.5" width="195.1" height="205.2"/></clipPath>
<line class="ds" stroke-dasharray="5.6 3.58" stroke-dashoffset="1.78" x1="49.6" y1="348.2" x2="244.7" y2="348.2"/>
<line class="ds" stroke-dasharray="5.6 3.58" stroke-dashoffset="1.78" x1="49.6" y1="375.3" x2="244.7" y2="375.3"/>
<line class="ds" stroke-dasharray="5.6 3.58" stroke-dashoffset="1.78" x1="49.6" y1="401.5" x2="244.7" y2="401.5"/>
<g class="p" clip-path="url(#clipd)">
<rect x="120.8" y="336.35"/>
<rect x="109.4" y="339.45"/>
<rect x="114.0" y="351.05"/>
<rect x="150.5" y="355.95"/>
<rect x="78.3" y="352.45"/>
<rect x="87.5" y="352.15"/>
<rect x="104.8" y="355.15"/>
<rect x="95.9" y="356.75"/>
<rect x="101.3" y="358.25"/>
<rect x="74.5" y="356.75"/>
<rect x="87.5" y="355.95"/>
<rect x="69.2" y="359.75"/>
<rect x="128.5" y="360.95"/>
<rect x="160.1" y="363.25"/>
<rect x="110.4" y="362.85"/>
<rect x="117.8" y="364.85"/>
<rect x="152.8" y="365.55"/>
<rect x="125.4" y="366.65"/>
<rect x="142.6" y="367.75"/>
<rect x="53.9" y="368.65"/>
<rect x="57.7" y="369.75"/>
<rect x="131.6" y="370.45"/>
<rect x="136.4" y="372.75"/>
<rect x="150.2" y="371.65"/>
<rect x="160.1" y="373.55"/>
<rect x="142.6" y="372.75"/>
<rect x="145.6" y="376.55"/>
<rect x="150.5" y="377.65"/>
<rect x="131.9" y="377.65"/>
<rect x="136.1" y="376.55"/>
<rect x="121.2" y="375.05"/>
<rect x="116.6" y="371.25"/>
<rect x="112.0" y="372.05"/>
<rect x="108.2" y="378.15"/>
<rect x="103.6" y="379.65"/>
<rect x="93.6" y="378.15"/>
<rect x="78.3" y="376.55"/>
<rect x="69.2" y="373.55"/>
<rect x="105.9" y="383.45"/>
<rect x="101.3" y="385.05"/>
<rect x="86.0" y="386.55"/>
<rect x="93.6" y="389.25"/>
<rect x="140.3" y="385.35"/>
<rect x="136.4" y="388.05"/>
<rect x="133.1" y="390.05"/>
<rect x="119.6" y="388.05"/>
<rect x="105.9" y="388.05"/>
<rect x="114.3" y="391.15"/>
<rect x="107.7" y="392.65"/>
<rect x="129.3" y="392.65"/>
<rect x="146.1" y="392.35"/>
<rect x="153.3" y="392.35"/>
<rect x="156.8" y="396.15"/>
<rect x="128.5" y="397.65"/>
<rect x="123.1" y="405.95"/>
<rect x="116.3" y="409.75"/>
<rect x="61.5" y="366.65"/>
<rect x="61.5" y="370.45"/>
<rect x="65.3" y="363.55"/>
<rect x="65.3" y="368.15"/>
<rect x="65.3" y="372.05"/>
<rect x="69.2" y="363.55"/>
<rect x="69.2" y="368.15"/>
<rect x="73.0" y="361.35"/>
<rect x="73.0" y="365.85"/>
<rect x="73.0" y="370.45"/>
<rect x="73.8" y="374.25"/>
<rect x="77.6" y="360.55"/>
<rect x="77.6" y="365.15"/>
<rect x="77.6" y="369.75"/>
<rect x="77.6" y="373.55"/>
<rect x="82.2" y="362.05"/>
<rect x="82.2" y="366.65"/>
<rect x="82.2" y="371.25"/>
<rect x="82.2" y="375.85"/>
<rect x="86.7" y="359.75"/>
<rect x="86.7" y="364.35"/>
<rect x="86.7" y="368.95"/>
<rect x="86.7" y="372.75"/>
<rect x="91.3" y="362.85"/>
<rect x="91.3" y="367.45"/>
<rect x="91.3" y="372.05"/>
<rect x="95.9" y="362.05"/>
<rect x="95.9" y="366.65"/>
<rect x="95.9" y="371.25"/>
<rect x="96.7" y="375.05"/>
<rect x="100.5" y="363.55"/>
<rect x="100.5" y="368.15"/>
<rect x="100.5" y="372.75"/>
<rect x="105.1" y="365.15"/>
<rect x="105.1" y="369.75"/>
<rect x="105.1" y="374.25"/>
<rect x="109.7" y="367.45"/>
<rect x="109.7" y="371.25"/>
<rect x="114.3" y="368.15"/>
<rect x="115.0" y="373.55"/>
<rect x="119.6" y="370.45"/>
<rect x="122.7" y="374.25"/>
<rect x="130.8" y="371.25"/>
<rect x="135.4" y="372.75"/>
<rect x="166.7" y="372.05"/>
<rect x="170.6" y="372.05"/>
<rect x="142.3" y="372.75"/>
<rect x="131.6" y="377.65"/>
<rect x="135.7" y="376.55"/>
<rect x="146.1" y="376.55"/>
<rect x="150.7" y="377.65"/>
<rect x="193.8" y="397.65"/>
<rect x="235.1" y="402.55"/>
<rect x="111.5" y="412.35"/>
<rect x="126.5" y="410.95"/>
<rect x="125.3" y="417.85"/>
<rect x="144.9" y="420.15"/>
<rect x="167.8" y="414.35"/>
<rect x="201.7" y="420.15"/>
<rect x="182.3" y="446.15"/>
<rect x="85.1" y="387.25"/>
<rect x="86.7" y="386.05"/>
<rect x="55.8" y="369.15"/>
<rect x="59.6" y="368.15"/>
<rect x="59.6" y="370.15"/>
<rect x="61.5" y="368.55"/>
<rect x="63.4" y="365.15"/>
<rect x="63.4" y="367.35"/>
<rect x="63.4" y="369.25"/>
<rect x="63.4" y="371.25"/>
<rect x="65.3" y="365.85"/>
<rect x="65.3" y="370.15"/>
<rect x="67.2" y="361.65"/>
<rect x="67.2" y="363.55"/>
<rect x="67.2" y="365.85"/>
<rect x="67.2" y="368.15"/>
<rect x="67.2" y="370.15"/>
<rect x="67.2" y="372.85"/>
<rect x="69.2" y="361.65"/>
<rect x="69.2" y="365.85"/>
<rect x="69.2" y="370.85"/>
<rect x="71.1" y="360.55"/>
<rect x="71.1" y="362.45"/>
<rect x="71.1" y="364.75"/>
<rect x="71.1" y="367.05"/>
<rect x="71.1" y="369.25"/>
<rect x="71.1" y="372.05"/>
<rect x="71.5" y="373.85"/>
<rect x="71.9" y="358.25"/>
<rect x="73.0" y="363.65"/>
<rect x="73.0" y="368.15"/>
<rect x="73.4" y="372.35"/>
<rect x="73.7" y="359.05"/>
<rect x="75.3" y="360.95"/>
<rect x="75.3" y="363.25"/>
<rect x="75.3" y="365.45"/>
<rect x="75.3" y="367.85"/>
<rect x="75.3" y="370.15"/>
<rect x="75.3" y="372.05"/>
<rect x="75.7" y="372.05"/>
<rect x="75.7" y="373.85"/>
<rect x="76.0" y="358.65"/>
<rect x="76.0" y="375.35"/>
<rect x="77.6" y="362.85"/>
<rect x="77.6" y="367.45"/>
<rect x="77.6" y="371.65"/>
<rect x="77.9" y="375.05"/>
<rect x="79.9" y="361.35"/>
<rect x="79.9" y="363.65"/>
<rect x="79.9" y="365.85"/>
<rect x="79.9" y="368.15"/>
<rect x="79.9" y="370.45"/>
<rect x="79.9" y="372.35"/>
<rect x="79.9" y="374.75"/>
<rect x="80.2" y="376.25"/>
<rect x="82.2" y="364.35"/>
<rect x="82.2" y="368.95"/>
<rect x="82.2" y="373.55"/>
<rect x="84.5" y="360.85"/>
<rect x="84.5" y="363.25"/>
<rect x="84.5" y="365.45"/>
<rect x="84.5" y="367.75"/>
<rect x="84.5" y="370.15"/>
<rect x="84.5" y="372.05"/>
<rect x="84.5" y="374.35"/>
<rect x="86.7" y="362.05"/>
<rect x="86.7" y="366.65"/>
<rect x="86.7" y="370.85"/>
<rect x="87.1" y="357.85"/>
<rect x="89.0" y="361.35"/>
<rect x="89.0" y="363.65"/>
<rect x="89.0" y="365.85"/>
<rect x="89.0" y="368.15"/>
<rect x="89.0" y="370.45"/>
<rect x="89.0" y="372.35"/>
<rect x="91.3" y="365.15"/>
<rect x="91.3" y="369.75"/>
<rect x="93.6" y="362.45"/>
<rect x="93.6" y="364.75"/>
<rect x="93.6" y="367.05"/>
<rect x="93.6" y="369.35"/>
<rect x="93.6" y="371.65"/>
<rect x="94.0" y="373.55"/>
<rect x="95.2" y="376.65"/>
<rect x="95.9" y="359.35"/>
<rect x="95.9" y="364.35"/>
<rect x="95.9" y="368.95"/>
<rect x="96.3" y="373.15"/>
<rect x="98.2" y="362.85"/>
<rect x="98.2" y="365.15"/>
<rect x="98.2" y="367.35"/>
<rect x="98.2" y="369.65"/>
<rect x="98.2" y="372.05"/>
<rect x="98.6" y="357.45"/>
<rect x="98.6" y="373.85"/>
<rect x="100.5" y="365.85"/>
<rect x="100.5" y="370.45"/>
<rect x="100.9" y="360.85"/>
<rect x="102.8" y="364.35"/>
<rect x="102.8" y="366.65"/>
<rect x="102.8" y="368.95"/>
<rect x="102.8" y="371.25"/>
<rect x="102.8" y="373.45"/>
<rect x="105.1" y="367.45"/>
<rect x="105.1" y="372.05"/>
<rect x="106.7" y="376.15"/>
<rect x="107.4" y="366.25"/>
<rect x="107.4" y="368.65"/>
<rect x="107.4" y="370.45"/>
<rect x="107.4" y="372.75"/>
<rect x="107.8" y="364.05"/>
<rect x="109.7" y="369.35"/>
<rect x="110.0" y="365.15"/>
<rect x="110.9" y="369.75"/>
<rect x="110.9" y="371.65"/>
<rect x="112.0" y="367.75"/>
<rect x="112.0" y="369.65"/>
<rect x="112.4" y="372.35"/>
<rect x="113.1" y="370.15"/>
<rect x="113.5" y="372.85"/>
<rect x="114.3" y="371.65"/>
<rect x="114.6" y="370.85"/>
<rect x="115.5" y="369.65"/>
<rect x="115.8" y="372.35"/>
<rect x="116.0" y="366.45"/>
<rect x="116.9" y="369.25"/>
<rect x="117.3" y="372.05"/>
<rect x="118.1" y="370.85"/>
<rect x="118.7" y="367.65"/>
<rect x="118.9" y="373.15"/>
<rect x="120.4" y="372.75"/>
<rect x="121.2" y="372.35"/>
</g>
<rect class="bx" x="49.6" y="271.5" width="195.1" height="205.2"/>
<line class="ax" x1="92.5" y1="476.7" x2="92.5" y2="484.0"/>
<text class="tk" style="font-size:11.3px" transform="translate(92.0,498.6) scale(1.06,1)" text-anchor="middle">20</text>
<line class="ax" x1="139.4" y1="476.7" x2="139.4" y2="484.0"/>
<text class="tk" style="font-size:11.3px" transform="translate(138.9,498.6) scale(1.06,1)" text-anchor="middle">40</text>
<line class="ax" x1="186.3" y1="476.7" x2="186.3" y2="484.0"/>
<text class="tk" style="font-size:11.3px" transform="translate(185.8,498.6) scale(1.06,1)" text-anchor="middle">60</text>
<line class="ax" x1="233.2" y1="476.7" x2="233.2" y2="484.0"/>
<text class="tk" style="font-size:11.3px" transform="translate(232.7,498.6) scale(1.06,1)" text-anchor="middle">80</text>
<line class="ax" x1="41.2" y1="468.7" x2="49.6" y2="468.7"/>
<text class="tk" style="font-size:11.1px" transform="translate(34.6,468.7) rotate(-90)" text-anchor="middle">-100</text>
<line class="ax" x1="41.2" y1="421.3" x2="49.6" y2="421.3"/>
<text class="tk" style="font-size:11.1px" transform="translate(34.6,421.3) rotate(-90)" text-anchor="middle">-50</text>
<line class="ax" x1="41.2" y1="373.9" x2="49.6" y2="373.9"/>
<text class="tk" style="font-size:11.1px" transform="translate(34.6,373.9) rotate(-90)" text-anchor="middle">0</text>
<line class="ax" x1="41.2" y1="326.5" x2="49.6" y2="326.5"/>
<text class="tk" style="font-size:11.1px" transform="translate(34.6,326.5) rotate(-90)" text-anchor="middle">50</text>
<line class="ax" x1="41.2" y1="279.1" x2="49.6" y2="279.1"/>
<text class="tk" style="font-size:11.1px" transform="translate(34.6,279.1) rotate(-90)" text-anchor="middle">100</text>
<text class="lb" style="font-size:13.7px" transform="translate(147.7,521.0) scale(0.95,1)" text-anchor="middle"><tspan fill="#000">MEAN</tspan><tspan fill="#383838">(FRAX-US, GARVAN)</tspan></text>
<text class="lb" transform="translate(9.8,370.2) scale(1.12,1) rotate(-90)" text-anchor="middle">FRAX-US - GARVAN</text>
<text class="pl" style="font-size:19.2px" transform="translate(58.8,297.7) scale(1.0,1)">d</text>
</g>
<g id="panel-e">
<clipPath id="clipe"><rect x="317.4" y="271.5" width="195.95000000000005" height="205.2"/></clipPath>
<line class="ds" stroke-dasharray="5.6 3.55" stroke-dashoffset="0.75" x1="317.4" y1="356.2" x2="513.35" y2="356.2"/>
<line class="ds" stroke-dasharray="5.6 3.55" stroke-dashoffset="0.75" x1="317.4" y1="384.0" x2="513.35" y2="384.0"/>
<line class="ds" stroke-dasharray="5.6 3.55" stroke-dashoffset="0.75" x1="317.4" y1="412.3" x2="513.35" y2="412.3"/>
<g class="p" clip-path="url(#clipe)">
<rect x="386.7" y="345.95"/>
<rect x="374.2" y="350.25"/>
<rect x="351.4" y="361.25"/>
<rect x="339.8" y="362.05"/>
<rect x="369.7" y="367.55"/>
<rect x="359.3" y="367.35"/>
<rect x="355.2" y="369.85"/>
<rect x="362.9" y="370.55"/>
<rect x="321.1" y="371.65"/>
<rect x="373.9" y="373.15"/>
<rect x="371.6" y="375.45"/>
<rect x="384.3" y="378.55"/>
<rect x="399.4" y="381.15"/>
<rect x="427.7" y="385.45"/>
<rect x="406.0" y="386.15"/>
<rect x="409.8" y="388.45"/>
<rect x="398.3" y="386.95"/>
<rect x="388.8" y="386.95"/>
<rect x="386.1" y="390.45"/>
<rect x="392.2" y="390.45"/>
<rect x="363.9" y="390.45"/>
<rect x="354.0" y="392.65"/>
<rect x="360.4" y="395.35"/>
<rect x="395.3" y="393.85"/>
<rect x="403.7" y="393.05"/>
<rect x="400.6" y="396.15"/>
<rect x="410.6" y="394.55"/>
<rect x="421.3" y="393.85"/>
<rect x="423.6" y="394.55"/>
<rect x="375.4" y="400.25"/>
<rect x="380.0" y="399.65"/>
<rect x="379.7" y="402.25"/>
<rect x="404.1" y="399.65"/>
<rect x="399.9" y="401.45"/>
<rect x="395.3" y="403.75"/>
<rect x="397.6" y="406.85"/>
<rect x="415.6" y="407.85"/>
<rect x="422.5" y="408.85"/>
<rect x="403.7" y="411.15"/>
<rect x="393.7" y="412.15"/>
<rect x="386.9" y="413.75"/>
<rect x="390.7" y="415.25"/>
<rect x="325.7" y="371.15"/>
<rect x="328.8" y="374.75"/>
<rect x="330.3" y="370.15"/>
<rect x="333.3" y="367.05"/>
<rect x="333.3" y="373.15"/>
<rect x="334.1" y="378.55"/>
<rect x="337.2" y="367.05"/>
<rect x="337.2" y="371.65"/>
<rect x="337.9" y="376.25"/>
<rect x="342.5" y="368.55"/>
<rect x="342.5" y="373.15"/>
<rect x="341.8" y="377.75"/>
<rect x="343.3" y="383.15"/>
<rect x="347.1" y="370.15"/>
<rect x="347.1" y="374.75"/>
<rect x="347.1" y="379.25"/>
<rect x="347.9" y="383.15"/>
<rect x="351.7" y="375.45"/>
<rect x="351.7" y="380.05"/>
<rect x="352.5" y="383.15"/>
<rect x="356.3" y="373.15"/>
<rect x="356.3" y="377.75"/>
<rect x="356.3" y="382.35"/>
<rect x="356.3" y="386.95"/>
<rect x="360.9" y="379.25"/>
<rect x="360.9" y="383.15"/>
<rect x="365.5" y="380.85"/>
<rect x="366.2" y="384.65"/>
<rect x="370.0" y="380.85"/>
<rect x="370.0" y="385.45"/>
<rect x="370.0" y="390.05"/>
<rect x="373.9" y="383.15"/>
<rect x="374.6" y="387.75"/>
<rect x="375.4" y="391.55"/>
<rect x="378.4" y="383.15"/>
<rect x="379.2" y="387.75"/>
<rect x="377.7" y="393.85"/>
<rect x="381.5" y="384.65"/>
<rect x="398.3" y="390.05"/>
<rect x="402.1" y="390.75"/>
<rect x="396.5" y="418.25"/>
<rect x="400.7" y="420.15"/>
<rect x="419.0" y="425.45"/>
<rect x="441.6" y="422.45"/>
<rect x="451.9" y="419.35"/>
<rect x="481.8" y="427.45"/>
<rect x="503.3" y="420.15"/>
<rect x="455.1" y="456.85"/>
<rect x="327.3" y="372.95"/>
<rect x="328.0" y="370.65"/>
<rect x="329.6" y="372.45"/>
<rect x="331.1" y="373.95"/>
<rect x="331.8" y="368.65"/>
<rect x="331.8" y="371.65"/>
<rect x="333.3" y="370.15"/>
<rect x="333.7" y="375.85"/>
<rect x="335.3" y="367.05"/>
<rect x="335.3" y="369.35"/>
<rect x="335.3" y="372.35"/>
<rect x="335.6" y="374.65"/>
<rect x="336.0" y="377.35"/>
<rect x="337.2" y="369.35"/>
<rect x="337.6" y="373.95"/>
<rect x="339.8" y="367.85"/>
<rect x="339.8" y="370.15"/>
<rect x="339.8" y="372.35"/>
<rect x="339.8" y="377.05"/>
<rect x="340.2" y="374.65"/>
<rect x="342.2" y="375.45"/>
<rect x="342.5" y="370.85"/>
<rect x="342.6" y="380.45"/>
<rect x="344.5" y="376.25"/>
<rect x="344.5" y="378.45"/>
<rect x="344.8" y="369.35"/>
<rect x="344.8" y="371.65"/>
<rect x="344.8" y="373.95"/>
<rect x="345.2" y="381.15"/>
<rect x="345.6" y="383.15"/>
<rect x="347.1" y="372.45"/>
<rect x="347.1" y="377.05"/>
<rect x="347.5" y="381.15"/>
<rect x="349.4" y="375.15"/>
<rect x="349.4" y="377.35"/>
<rect x="349.4" y="379.65"/>
<rect x="349.8" y="381.65"/>
<rect x="350.2" y="383.15"/>
<rect x="351.7" y="377.75"/>
<rect x="352.1" y="381.65"/>
<rect x="354.0" y="374.25"/>
<rect x="354.0" y="376.65"/>
<rect x="354.0" y="378.85"/>
<rect x="354.0" y="381.25"/>
<rect x="354.4" y="382.75"/>
<rect x="354.4" y="385.05"/>
<rect x="355.8" y="371.45"/>
<rect x="356.3" y="375.45"/>
<rect x="356.3" y="380.05"/>
<rect x="356.3" y="384.65"/>
<rect x="357.3" y="368.65"/>
<rect x="358.6" y="378.45"/>
<rect x="358.6" y="380.85"/>
<rect x="358.6" y="382.75"/>
<rect x="358.6" y="385.05"/>
<rect x="360.9" y="381.15"/>
<rect x="361.1" y="368.95"/>
<rect x="363.2" y="380.05"/>
<rect x="363.2" y="382.05"/>
<rect x="363.6" y="383.85"/>
<rect x="365.1" y="387.55"/>
<rect x="365.8" y="382.75"/>
<rect x="366.9" y="390.25"/>
<rect x="367.8" y="380.85"/>
<rect x="368.1" y="382.75"/>
<rect x="368.1" y="385.05"/>
<rect x="370.0" y="383.15"/>
<rect x="370.0" y="387.75"/>
<rect x="370.8" y="378.15"/>
<rect x="371.9" y="382.05"/>
<rect x="371.9" y="384.25"/>
<rect x="372.3" y="386.65"/>
<rect x="372.3" y="388.85"/>
<rect x="372.7" y="374.25"/>
<rect x="372.7" y="390.85"/>
<rect x="374.2" y="385.45"/>
<rect x="375.0" y="389.65"/>
<rect x="376.1" y="383.15"/>
<rect x="376.5" y="385.45"/>
<rect x="376.9" y="387.75"/>
<rect x="377.3" y="389.65"/>
<rect x="378.8" y="385.45"/>
<rect x="379.9" y="383.85"/>
<rect x="380.3" y="386.15"/>
</g>
<rect class="bx" x="317.4" y="271.5" width="195.95000000000005" height="205.2"/>
<line class="ax" x1="341.2" y1="476.7" x2="341.2" y2="484.0"/>
<text class="tk" style="font-size:11.1px" transform="translate(341.0,498.6) scale(1.06,1)" text-anchor="middle">10</text>
<line class="ax" x1="367.6" y1="476.7" x2="367.6" y2="484.0"/>
<text class="tk" style="font-size:11.1px" transform="translate(367.4,498.6) scale(1.06,1)" text-anchor="middle">20</text>
<line class="ax" x1="393.9" y1="476.7" x2="393.9" y2="484.0"/>
<text class="tk" style="font-size:11.1px" transform="translate(393.7,498.6) scale(1.06,1)" text-anchor="middle">30</text>
<line class="ax" x1="420.2" y1="476.7" x2="420.2" y2="484.0"/>
<text class="tk" style="font-size:11.1px" transform="translate(420.1,498.6) scale(1.06,1)" text-anchor="middle">40</text>
<line class="ax" x1="446.6" y1="476.7" x2="446.6" y2="484.0"/>
<text class="tk" style="font-size:11.1px" transform="translate(446.4,498.6) scale(1.06,1)" text-anchor="middle">50</text>
<line class="ax" x1="473.0" y1="476.7" x2="473.0" y2="484.0"/>
<text class="tk" style="font-size:11.1px" transform="translate(472.8,498.6) scale(1.06,1)" text-anchor="middle">60</text>
<line class="ax" x1="499.3" y1="476.7" x2="499.3" y2="484.0"/>
<text class="tk" style="font-size:11.1px" transform="translate(499.1,498.6) scale(1.06,1)" text-anchor="middle">70</text>
<line class="ax" x1="309.0" y1="468.7" x2="317.4" y2="468.7"/>
<text class="tk" style="font-size:11.1px" transform="translate(302.4,468.7) rotate(-90)" text-anchor="middle">-100</text>
<line class="ax" x1="309.0" y1="421.3" x2="317.4" y2="421.3"/>
<text class="tk" style="font-size:11.1px" transform="translate(302.4,421.3) rotate(-90)" text-anchor="middle">-50</text>
<line class="ax" x1="309.0" y1="373.9" x2="317.4" y2="373.9"/>
<text class="tk" style="font-size:11.1px" transform="translate(302.4,373.9) rotate(-90)" text-anchor="middle">0</text>
<line class="ax" x1="309.0" y1="326.5" x2="317.4" y2="326.5"/>
<text class="tk" style="font-size:11.1px" transform="translate(302.4,326.5) rotate(-90)" text-anchor="middle">50</text>
<line class="ax" x1="309.0" y1="279.1" x2="317.4" y2="279.1"/>
<text class="tk" style="font-size:11.1px" transform="translate(302.4,279.1) rotate(-90)" text-anchor="middle">100</text>
<text class="lb" style="font-size:13.7px" transform="translate(416.8,521.0) scale(0.95,1)" text-anchor="middle"><tspan fill="#000">MEAN</tspan><tspan fill="#383838">(FRAX-UK, GARVAN)</tspan></text>
<text class="lb" transform="translate(280.8,373.7) scale(1.12,1) rotate(-90)" text-anchor="middle">FRAX-UK - GARVAN</text>
<text class="pl" style="font-size:18.8px" transform="translate(326.1,297.6) scale(1.0,1)">e</text>
</g>
<g id="panel-f">
<clipPath id="clipf"><rect x="588.8" y="271.5" width="195.10000000000002" height="205.2"/></clipPath>
<line class="ds" stroke-dasharray="5.6 3.55" stroke-dashoffset="0" x1="588.8" y1="373.4" x2="783.9" y2="373.4"/>
<line class="ds" stroke-dasharray="5.6 3.55" stroke-dashoffset="0" x1="588.8" y1="383.6" x2="783.9" y2="383.6"/>
<line class="ds" stroke-dasharray="5.6 3.55" stroke-dashoffset="0" x1="588.8" y1="394.0" x2="783.9" y2="394.0"/>
<g class="p" clip-path="url(#clipf)">
<rect x="592.4" y="373.95"/>
<rect x="598.6" y="375.45"/>
<rect x="602.0" y="374.55"/>
<rect x="605.4" y="374.75"/>
<rect x="608.9" y="375.15"/>
<rect x="612.3" y="375.45"/>
<rect x="615.8" y="375.95"/>
<rect x="619.2" y="376.45"/>
<rect x="622.3" y="377.35"/>
<rect x="625.3" y="378.35"/>
<rect x="628.0" y="377.05"/>
<rect x="630.7" y="376.05"/>
<rect x="633.7" y="377.15"/>
<rect x="637.2" y="378.35"/>
<rect x="640.2" y="379.65"/>
<rect x="643.3" y="380.85"/>
<rect x="646.7" y="381.45"/>
<rect x="601.2" y="376.65"/>
<rect x="604.3" y="378.05"/>
<rect x="607.7" y="378.35"/>
<rect x="611.2" y="378.55"/>
<rect x="614.6" y="378.65"/>
<rect x="616.9" y="380.45"/>
<rect x="619.2" y="381.95"/>
<rect x="622.6" y="382.05"/>
<rect x="625.7" y="382.25"/>
<rect x="628.4" y="382.55"/>
<rect x="631.0" y="383.85"/>
<rect x="633.3" y="384.85"/>
<rect x="635.6" y="385.95"/>
<rect x="638.7" y="387.35"/>
<rect x="641.7" y="388.75"/>
<rect x="644.8" y="389.05"/>
<rect x="620.3" y="379.35"/>
<rect x="623.4" y="380.25"/>
<rect x="626.5" y="380.45"/>
<rect x="629.5" y="379.65"/>
<rect x="632.6" y="380.85"/>
<rect x="635.6" y="381.95"/>
<rect x="638.7" y="383.55"/>
<rect x="641.7" y="384.65"/>
<rect x="644.8" y="385.45"/>
<rect x="632.6" y="382.75"/>
<rect x="636.4" y="383.85"/>
<rect x="640.2" y="385.85"/>
<rect x="643.7" y="386.95"/>
<rect x="629.5" y="381.25"/>
<rect x="605.0" y="376.35"/>
<rect x="609.6" y="376.85"/>
<rect x="613.5" y="377.15"/>
<rect x="617.3" y="378.15"/>
<rect x="644.0" y="379.65"/>
<rect x="650.1" y="379.35"/>
<rect x="656.2" y="380.45"/>
<rect x="662.0" y="380.05"/>
<rect x="669.2" y="380.05"/>
<rect x="675.3" y="380.95"/>
<rect x="679.2" y="383.55"/>
<rect x="647.1" y="380.45"/>
<rect x="653.2" y="380.65"/>
<rect x="659.1" y="380.95"/>
<rect x="665.4" y="380.65"/>
<rect x="672.3" y="381.25"/>
<rect x="644.0" y="384.25"/>
<rect x="649.3" y="383.85"/>
<rect x="654.7" y="384.65"/>
<rect x="660.8" y="385.05"/>
<rect x="666.9" y="385.05"/>
<rect x="673.0" y="385.45"/>
<rect x="678.4" y="386.15"/>
<rect x="681.5" y="387.75"/>
<rect x="646.7" y="386.15"/>
<rect x="652.0" y="386.55"/>
<rect x="657.8" y="386.95"/>
<rect x="663.9" y="387.15"/>
<rect x="670.0" y="387.35"/>
<rect x="675.7" y="387.75"/>
<rect x="643.2" y="389.25"/>
<rect x="648.6" y="389.25"/>
<rect x="653.9" y="389.65"/>
<rect x="659.3" y="389.65"/>
<rect x="664.6" y="389.65"/>
<rect x="670.0" y="389.65"/>
<rect x="675.3" y="389.65"/>
<rect x="679.9" y="390.05"/>
<rect x="683.4" y="391.15"/>
<rect x="645.9" y="389.65"/>
<rect x="651.3" y="389.65"/>
<rect x="656.6" y="389.85"/>
<rect x="662.0" y="389.85"/>
<rect x="667.3" y="389.85"/>
<rect x="672.7" y="389.85"/>
<rect x="677.6" y="390.05"/>
<rect x="689.7" y="388.75"/>
<rect x="698.0" y="383.55"/>
<rect x="698.7" y="388.45"/>
<rect x="697.1" y="393.05"/>
<rect x="710.6" y="377.55"/>
<rect x="716.3" y="380.85"/>
<rect x="726.2" y="382.75"/>
<rect x="740.4" y="380.85"/>
<rect x="773.0" y="388.95"/>
<rect x="706.5" y="395.45"/>
<rect x="715.2" y="393.15"/>
<rect x="719.5" y="396.15"/>
<rect x="723.2" y="394.35"/>
</g>
<rect class="bx" x="588.8" y="271.5" width="195.10000000000002" height="205.2"/>
<line class="ax" x1="614.0" y1="476.7" x2="614.0" y2="484.0"/>
<text class="tk" style="font-size:10.8px" transform="translate(613.6,499.2) scale(1.06,1)" text-anchor="middle">10</text>
<line class="ax" x1="649.1" y1="476.7" x2="649.1" y2="484.0"/>
<text class="tk" style="font-size:10.8px" transform="translate(648.7,499.2) scale(1.06,1)" text-anchor="middle">20</text>
<line class="ax" x1="684.1" y1="476.7" x2="684.1" y2="484.0"/>
<text class="tk" style="font-size:10.8px" transform="translate(683.7,499.2) scale(1.06,1)" text-anchor="middle">30</text>
<line class="ax" x1="719.2" y1="476.7" x2="719.2" y2="484.0"/>
<text class="tk" style="font-size:10.8px" transform="translate(718.8,499.2) scale(1.06,1)" text-anchor="middle">40</text>
<line class="ax" x1="754.2" y1="476.7" x2="754.2" y2="484.0"/>
<text class="tk" style="font-size:10.8px" transform="translate(753.8,499.2) scale(1.06,1)" text-anchor="middle">50</text>
<line class="ax" x1="580.4" y1="468.7" x2="588.8" y2="468.7"/>
<text class="tk" style="font-size:11.1px" transform="translate(573.8,468.7) rotate(-90)" text-anchor="middle">-100</text>
<line class="ax" x1="580.4" y1="421.3" x2="588.8" y2="421.3"/>
<text class="tk" style="font-size:11.1px" transform="translate(573.8,421.3) rotate(-90)" text-anchor="middle">-50</text>
<line class="ax" x1="580.4" y1="373.9" x2="588.8" y2="373.9"/>
<text class="tk" style="font-size:11.1px" transform="translate(573.8,373.9) rotate(-90)" text-anchor="middle">0</text>
<line class="ax" x1="580.4" y1="326.5" x2="588.8" y2="326.5"/>
<text class="tk" style="font-size:11.1px" transform="translate(573.8,326.5) rotate(-90)" text-anchor="middle">50</text>
<line class="ax" x1="580.4" y1="279.1" x2="588.8" y2="279.1"/>
<text class="tk" style="font-size:11.1px" transform="translate(573.8,279.1) rotate(-90)" text-anchor="middle">100</text>
<text class="lb" style="font-size:13.7px" transform="translate(689.3,521.0) scale(0.95,1)" text-anchor="middle"><tspan fill="#000">MEAN</tspan><tspan fill="#383838">(FRAX-US, FRAX-UK)</tspan></text>
<text class="lb" transform="translate(547.8,374.1) scale(1.12,1) rotate(-90)" text-anchor="middle">FRAX-US - FRAX-UK</text>
<text class="pl" style="font-size:19.4px" transform="translate(597.0,297.7) scale(0.96,1)">f</text>
</g>
</svg></body></html>
